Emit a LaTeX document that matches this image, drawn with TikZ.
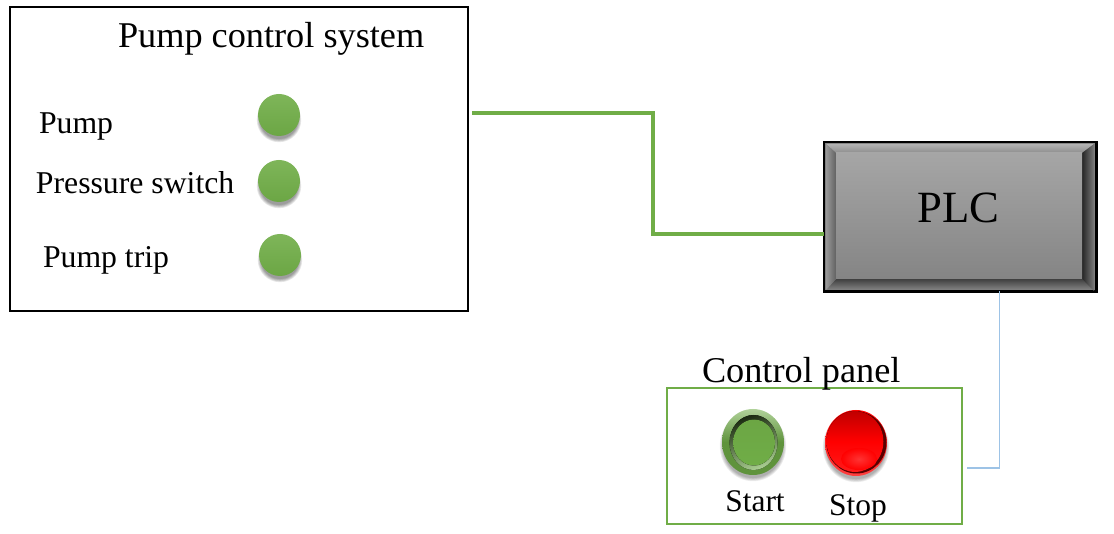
\documentclass[tikz,border=0pt]{standalone}
\usetikzlibrary{shapes.geometric}
\usepackage{fontspec}
\setmainfont{Liberation Serif}
\definecolor{lampgreen}{HTML}{70AD47}
\definecolor{linkblue}{HTML}{9DC3E6}
\tikzset{
  every node/.style={inner sep=0pt,outer sep=0pt},
  framebox/.style={draw=black,line width=1.5pt},
  panelbox/.style={draw=lampgreen,line width=1.5pt},
  greenlink/.style={draw=lampgreen,line width=2.3pt},
  bluelink/.style={draw=linkblue,line width=1pt},
  lbl/.style={font=\fontsize{23.8}{26}\selectfont,anchor=base west},
  smalllbl/.style={font=\fontsize{23.6}{26}\selectfont,anchor=base},
  titlelbl/.style={font=\fontsize{27.2}{30}\selectfont,anchor=base west},
  lamp/.style={circle,minimum size=31.5pt,top color=lampgreen!90!white,bottom color=lampgreen!96!black},
  pushbtn/.style={ellipse,minimum width=46.5pt,minimum height=49.5pt},
}
\newcommand{\softshadow}[5]{%
  \foreach \k in {4,3,2,1,0}{
    \fill[black,opacity=#5] (#1,#2+5) ellipse ({#3+\k*0.8} and {#4+\k*0.8});
  }
}
\begin{document}
\begin{tikzpicture}[x=0.75pt,y=-0.75pt]
\useasboundingbox (0,0) rectangle (1114,534);
\fill[white] (0,0) rectangle (1114,534);
% pump control system
\node[framebox,minimum width=343.5pt,minimum height=228pt,anchor=north west] (pcs) at (10,7) {};
\node[titlelbl] (pcst) at (118,47.5) {Pump control system};
\node[lbl] (l1) at (39,133.5) {Pump};
\node[lbl] (l2) at (36,193.5) {Pressure switch};
\node[lbl] (l3) at (43,268) {Pump trip};
\softshadow{279}{115}{19}{19}{0.09}
\softshadow{279}{181}{19}{19}{0.09}
\softshadow{280}{255}{19}{19}{0.09}
\node[lamp] (c1) at (279,115) {};
\node[lamp] (c2) at (279,181) {};
\node[lamp] (c3) at (280,255) {};
% PLC
\node[draw=black,line width=2.2pt,fill=gray,minimum width=204.5pt,minimum height=112pt,anchor=north west] (plc) at (824,142) {};
\shade[top color=black!30,bottom color=black!45] (826,144) -- (1094,144) -- (1082,153) -- (836,153) -- cycle;
\shade[top color=black!75,bottom color=black!48] (826,290) -- (1094,290) -- (1082,279) -- (836,279) -- cycle;
\shade[left color=black!40,right color=black!62] (826,144) -- (836,153) -- (836,279) -- (826,290) -- cycle;
\shade[left color=black!85,right color=black!52] (1094,144) -- (1082,153) -- (1082,279) -- (1094,291) -- cycle;
\shade[top color=black!35,bottom color=black!48] (836,153) rectangle (1082,279);
\node[font=\fontsize{33.5}{40}\selectfont,anchor=base] (plct) at (958.5,223) {PLC};
% control panel
\node[panelbox,minimum width=221pt,minimum height=102pt,anchor=north west] (panel) at (667,388) {};
\node[titlelbl] (panelt) at (702,382.5) {Control panel};
% start button
\softshadow{753}{441}{30}{32}{0.07}
\node[pushbtn,top color=lampgreen!55!white,bottom color=lampgreen!85!black,middle color=lampgreen!85!black] (start) at (753,442) {};
\fill[top color=lampgreen!25!black,bottom color=lampgreen!60!white,shading angle=20] (753.5,442.5) ellipse (24 and 27.5);
\fill[top color=lampgreen!96!black,bottom color=lampgreen] (754,442.5) ellipse (21 and 23);
% stop button
\softshadow{856}{442}{30}{32}{0.07}
\node[pushbtn,top color=red,bottom color=red!75!white] (stop) at (856,443) {};
\fill[red!35!black] (856.5,442.5) ellipse (30 and 31);
\fill[top color=red!75!black,bottom color=red!90!white,middle color=red] (855,441.5) ellipse (28.5 and 30.5);
\shade[inner color=red!80!white,outer color=red] (859,459) ellipse (18 and 11);
\node[smalllbl] (startt) at (755,511) {Start};
\node[smalllbl] (stopt) at (858,515) {Stop};
% connectors
\coordinate (gstart) at (472,113);
\coordinate (gmid1) at (653,113);
\coordinate (gmid2) at (653,234);
\draw[greenlink] (gstart) -- (gmid1) -- (gmid2) -- (gmid2 -| plc.west);
\coordinate (bstart) at (967,468);
\coordinate (bcorner) at (999.5,468);
\draw[bluelink] (bstart) -- (bcorner) -- (bcorner |- plc.south);
\end{tikzpicture}
\end{document}
